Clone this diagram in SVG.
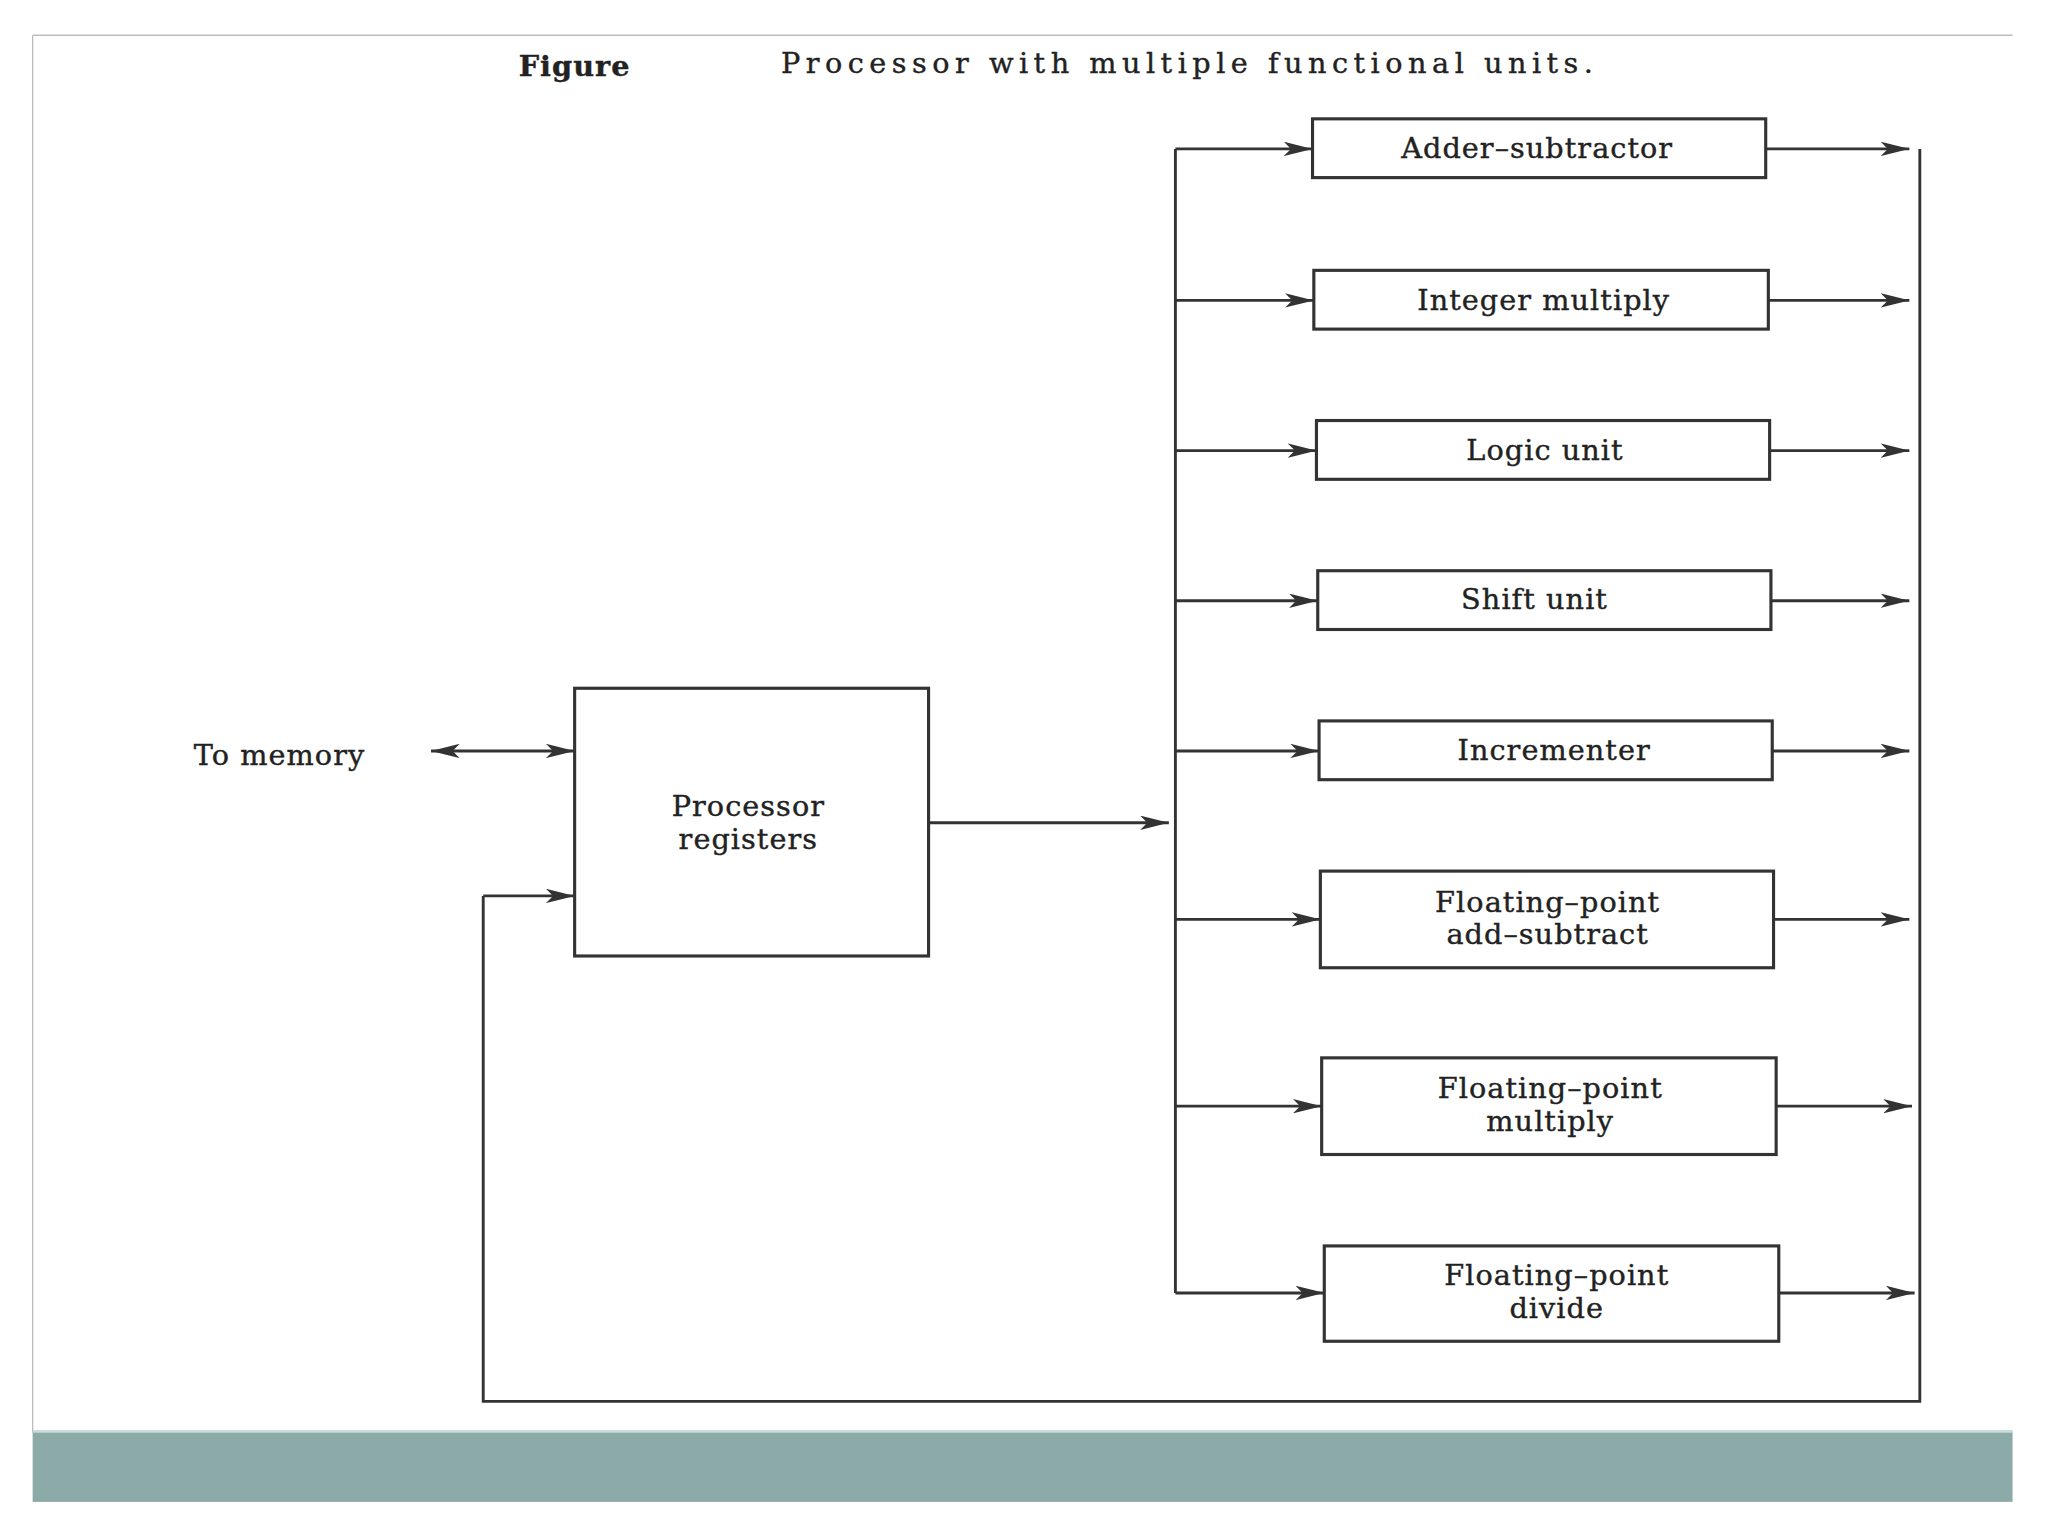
<svg xmlns="http://www.w3.org/2000/svg" width="2048" height="1536" viewBox="0 0 2048 1536">
<defs>
<marker id="ah" viewBox="0 0 20 10" refX="20" refY="5" markerWidth="22" markerHeight="11" markerUnits="userSpaceOnUse" orient="auto"><path d="M0,0 L20,5 L0,10 L5,5 z" fill="#333"/></marker>
<marker id="ahs" viewBox="0 0 20 10" refX="0" refY="5" markerWidth="22" markerHeight="11" markerUnits="userSpaceOnUse" orient="auto"><path d="M20,0 L0,5 L20,10 L15,5 z" fill="#333"/></marker>
</defs>
<style>
.box{fill:#fff;stroke:#333;stroke-width:2.4}
.ln{fill:none;stroke:#333;stroke-width:2.2}
text{font-family:"DejaVu Serif","Liberation Serif",serif;font-size:22px;fill:#222;text-anchor:middle;letter-spacing:0.8px;stroke:#222;stroke-width:0.3}
</style>
<rect width="2048" height="1536" fill="#fff"/>
<g transform="scale(1.306)">
<line x1="25" y1="27" x2="1541" y2="27" stroke="#bbb" stroke-width="1"/>
<line x1="25" y1="27" x2="25" y2="1097" stroke="#bbb" stroke-width="1"/>
<rect x="25" y="1096" width="1516" height="54" fill="#8caaa8"/>
<line x1="25" y1="1096" x2="1541" y2="1096" stroke="#c9dcda" stroke-width="2"/>
<text x="440" y="58" style="font-weight:bold">Figure</text>
<text x="598" y="56" style="text-anchor:start;letter-spacing:4.2px">Processor with multiple functional units.</text>
<g id="connectors">
<path class="ln" d="M900 114 V990"/>
<path class="ln" d="M1470 114 V1073 H370 V686" />
<path class="ln" d="M370 686 H440" marker-end="url(#ah)"/>
<path class="ln" d="M711 630 H895" marker-end="url(#ah)"/>
<path class="ln" d="M330 575 H440" marker-start="url(#ahs)" marker-end="url(#ah)"/>
<path class="ln" d="M900 114 H1005" marker-end="url(#ah)"/>
<path class="ln" d="M900 230 H1006" marker-end="url(#ah)"/>
<path class="ln" d="M900 345 H1008" marker-end="url(#ah)"/>
<path class="ln" d="M900 460 H1009" marker-end="url(#ah)"/>
<path class="ln" d="M900 575 H1010" marker-end="url(#ah)"/>
<path class="ln" d="M900 704 H1011" marker-end="url(#ah)"/>
<path class="ln" d="M900 847 H1012" marker-end="url(#ah)"/>
<path class="ln" d="M900 990 H1014" marker-end="url(#ah)"/>
<path class="ln" d="M1352 114 H1462" marker-end="url(#ah)"/>
<path class="ln" d="M1354 230 H1462" marker-end="url(#ah)"/>
<path class="ln" d="M1355 345 H1462" marker-end="url(#ah)"/>
<path class="ln" d="M1356 460 H1462" marker-end="url(#ah)"/>
<path class="ln" d="M1357 575 H1462" marker-end="url(#ah)"/>
<path class="ln" d="M1358 704 H1462" marker-end="url(#ah)"/>
<path class="ln" d="M1360 847 H1464" marker-end="url(#ah)"/>
<path class="ln" d="M1362 990 H1466" marker-end="url(#ah)"/>
</g>
<g id="memory"><text x="214" y="586">To memory</text></g>
<g id="regs"><rect class="box" x="440" y="527" width="271" height="205"/><text x="573" y="625">Processor</text><text x="573" y="650">registers</text></g>
<g id="adder"><rect class="box" x="1005" y="91" width="347" height="45"/><text x="1177" y="121">Adder–subtractor</text></g>
<g id="intmul"><rect class="box" x="1006" y="207" width="348" height="45"/><text x="1182" y="237">Integer multiply</text></g>
<g id="logic"><rect class="box" x="1008" y="322" width="347" height="45"/><text x="1183" y="352">Logic unit</text></g>
<g id="shift"><rect class="box" x="1009" y="437" width="347" height="45"/><text x="1175" y="466">Shift unit</text></g>
<g id="inc"><rect class="box" x="1010" y="552" width="347" height="45"/><text x="1190" y="582">Incrementer</text></g>
<g id="fpadd"><rect class="box" x="1011" y="667" width="347" height="74"/><text x="1185" y="698">Floating–point</text><text x="1185" y="723">add–subtract</text></g>
<g id="fpmul"><rect class="box" x="1012" y="810" width="348" height="74"/><text x="1187" y="841">Floating–point</text><text x="1187" y="866">multiply</text></g>
<g id="fpdiv"><rect class="box" x="1014" y="954" width="348" height="73"/><text x="1192" y="984">Floating–point</text><text x="1192" y="1009">divide</text></g>
</g>
</svg>
